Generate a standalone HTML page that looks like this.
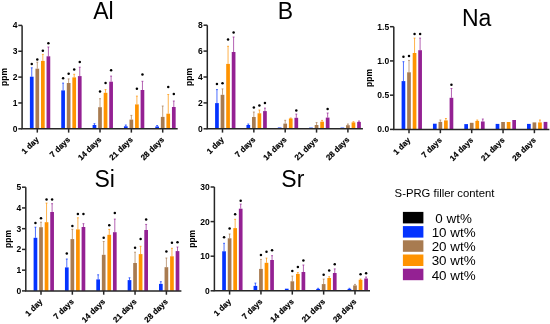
<!DOCTYPE html>
<html><head><meta charset="utf-8"><style>
html,body{margin:0;padding:0;background:#fff;width:550px;height:324px;overflow:hidden}
svg{display:block;will-change:transform}
text{font-family:"Liberation Sans", sans-serif;fill:#000}
.tl{font-size:8.5px;font-weight:bold}
.xl{font-size:8.0px;font-weight:bold;stroke:#000;stroke-width:0.2px}
.pp{font-size:8.5px;font-weight:bold}
.tt{font-size:23px}
.lg{font-size:11.3px}
.lt{font-size:13.4px}
</style></head><body>
<svg width="550" height="324" viewBox="0 0 550 324">
<rect width="550" height="324" fill="#fff"/>
<rect x="29.9" y="76.7" width="3.7" height="52.1" fill="#0433FF"/>
<path d="M31.75 76.7V67.8M30.8 67.8H32.7" stroke="#0433FF" stroke-width="1.0" fill="none" opacity="0.7"/>
<circle cx="31.75" cy="64" r="1.25" fill="#000"/>
<rect x="35.45" y="68.7" width="3.7" height="60.1" fill="#A87B50"/>
<path d="M37.3 68.7V62.2M36.35 62.2H38.25" stroke="#A87B50" stroke-width="1.0" fill="none" opacity="0.7"/>
<circle cx="37.3" cy="59.4" r="1.25" fill="#000"/>
<rect x="41" y="60.9" width="3.7" height="67.9" fill="#FF9300"/>
<path d="M42.85 60.9V54.4M41.9 54.4H43.8" stroke="#FF9300" stroke-width="1.0" fill="none" opacity="0.7"/>
<circle cx="42.85" cy="50.7" r="1.25" fill="#000"/>
<rect x="46.55" y="56.3" width="3.7" height="72.5" fill="#942193"/>
<path d="M48.4 56.3V47M47.45 47H49.35" stroke="#942193" stroke-width="1.0" fill="none" opacity="0.7"/>
<circle cx="48.4" cy="43.3" r="1.25" fill="#000"/>
<rect x="61.25" y="90.4" width="3.7" height="38.4" fill="#0433FF"/>
<path d="M63.1 90.4V83.1M62.15 83.1H64.05" stroke="#0433FF" stroke-width="1.0" fill="none" opacity="0.7"/>
<circle cx="63.1" cy="78.3" r="1.25" fill="#000"/>
<rect x="66.8" y="83" width="3.7" height="45.8" fill="#A87B50"/>
<path d="M68.65 83V78.9M67.7 78.9H69.6" stroke="#A87B50" stroke-width="1.0" fill="none" opacity="0.7"/>
<circle cx="68.65" cy="73.7" r="1.25" fill="#000"/>
<rect x="72.35" y="77.4" width="3.7" height="51.4" fill="#FF9300"/>
<path d="M74.2 77.4V74.3M73.25 74.3H75.15" stroke="#FF9300" stroke-width="1.0" fill="none" opacity="0.7"/>
<circle cx="74.2" cy="69.6" r="1.25" fill="#000"/>
<rect x="77.9" y="76.1" width="3.7" height="52.7" fill="#942193"/>
<path d="M79.75 76.1V67.2M78.8 67.2H80.7" stroke="#942193" stroke-width="1.0" fill="none" opacity="0.7"/>
<circle cx="79.75" cy="61.9" r="1.25" fill="#000"/>
<rect x="92.6" y="125" width="3.7" height="3.8" fill="#0433FF"/>
<path d="M94.45 125V123.7M93.5 123.7H95.4" stroke="#0433FF" stroke-width="1.0" fill="none" opacity="0.7"/>
<rect x="98.15" y="107.2" width="3.7" height="21.6" fill="#A87B50"/>
<path d="M100 107.2V98.7M99.05 98.7H100.95" stroke="#A87B50" stroke-width="1.0" fill="none" opacity="0.7"/>
<circle cx="100" cy="91.5" r="1.25" fill="#000"/>
<rect x="103.7" y="92.8" width="3.7" height="36" fill="#FF9300"/>
<path d="M105.55 92.8V89.6M104.6 89.6H106.5" stroke="#FF9300" stroke-width="1.0" fill="none" opacity="0.7"/>
<circle cx="105.55" cy="83.1" r="1.25" fill="#000"/>
<rect x="109.25" y="81.7" width="3.7" height="47.1" fill="#942193"/>
<path d="M111.1 81.7V76.1M110.15 76.1H112.05" stroke="#942193" stroke-width="1.0" fill="none" opacity="0.7"/>
<circle cx="111.1" cy="70.2" r="1.25" fill="#000"/>
<rect x="123.95" y="126.3" width="3.7" height="2.5" fill="#0433FF"/>
<path d="M125.8 126.3V125M124.85 125H126.75" stroke="#0433FF" stroke-width="1.0" fill="none" opacity="0.7"/>
<rect x="129.5" y="119.6" width="3.7" height="9.2" fill="#A87B50"/>
<path d="M131.35 119.6V115.4M130.4 115.4H132.3" stroke="#A87B50" stroke-width="1.0" fill="none" opacity="0.7"/>
<rect x="135.05" y="104.4" width="3.7" height="24.4" fill="#FF9300"/>
<path d="M136.9 104.4V96.1M135.95 96.1H137.85" stroke="#FF9300" stroke-width="1.0" fill="none" opacity="0.7"/>
<circle cx="136.9" cy="88.7" r="1.25" fill="#000"/>
<rect x="140.6" y="90" width="3.7" height="38.8" fill="#942193"/>
<path d="M142.45 90V81.3M141.5 81.3H143.4" stroke="#942193" stroke-width="1.0" fill="none" opacity="0.7"/>
<circle cx="142.45" cy="74.6" r="1.25" fill="#000"/>
<rect x="155.3" y="126.5" width="3.7" height="2.3" fill="#0433FF"/>
<path d="M157.15 126.5V125.5M156.2 125.5H158.1" stroke="#0433FF" stroke-width="1.0" fill="none" opacity="0.7"/>
<rect x="160.85" y="116.9" width="3.7" height="11.9" fill="#A87B50"/>
<path d="M162.7 116.9V106M161.75 106H163.65" stroke="#A87B50" stroke-width="1.0" fill="none" opacity="0.7"/>
<rect x="166.4" y="113.7" width="3.7" height="15.1" fill="#FF9300"/>
<path d="M168.25 113.7V94.5M167.3 94.5H169.2" stroke="#FF9300" stroke-width="1.0" fill="none" opacity="0.7"/>
<circle cx="168.25" cy="87.1" r="1.25" fill="#000"/>
<rect x="171.95" y="107" width="3.7" height="21.8" fill="#942193"/>
<path d="M173.8 107V101M172.85 101H174.75" stroke="#942193" stroke-width="1.0" fill="none" opacity="0.7"/>
<circle cx="173.8" cy="94.1" r="1.25" fill="#000"/>
<path d="M22.1 25.4V128.8H177.7" stroke="#262626" stroke-width="1.5" fill="none"/>
<path d="M18.3 128.8H22.1" stroke="#262626" stroke-width="1.5"/>
<text x="17.5" y="131.86" text-anchor="end" class="tl">0</text>
<path d="M18.3 102.95H22.1" stroke="#262626" stroke-width="1.5"/>
<text x="17.5" y="106.01" text-anchor="end" class="tl">1</text>
<path d="M18.3 77.1H22.1" stroke="#262626" stroke-width="1.5"/>
<text x="17.5" y="80.16" text-anchor="end" class="tl">2</text>
<path d="M18.3 51.25H22.1" stroke="#262626" stroke-width="1.5"/>
<text x="17.5" y="54.31" text-anchor="end" class="tl">3</text>
<path d="M18.3 25.4H22.1" stroke="#262626" stroke-width="1.5"/>
<text x="17.5" y="28.46" text-anchor="end" class="tl">4</text>
<path d="M37.3 128.8V132.6" stroke="#262626" stroke-width="1.5"/>
<text x="39.3" y="140.1" text-anchor="end" transform="rotate(-45 39.3 140.1)" class="xl">1 day</text>
<path d="M68.65 128.8V132.6" stroke="#262626" stroke-width="1.5"/>
<text x="70.65" y="140.1" text-anchor="end" transform="rotate(-45 70.65 140.1)" class="xl">7 days</text>
<path d="M100 128.8V132.6" stroke="#262626" stroke-width="1.5"/>
<text x="102" y="140.1" text-anchor="end" transform="rotate(-45 102 140.1)" class="xl">14 days</text>
<path d="M131.35 128.8V132.6" stroke="#262626" stroke-width="1.5"/>
<text x="133.35" y="140.1" text-anchor="end" transform="rotate(-45 133.35 140.1)" class="xl">21 days</text>
<path d="M162.7 128.8V132.6" stroke="#262626" stroke-width="1.5"/>
<text x="164.7" y="140.1" text-anchor="end" transform="rotate(-45 164.7 140.1)" class="xl">28 days</text>
<text x="4.35" y="76.9" text-anchor="middle" dominant-baseline="central" transform="rotate(-90 4.35 76.9)" class="pp">ppm</text>
<text x="93.2" y="18.6" class="tt">Al</text>
<rect x="215.1" y="103.1" width="3.7" height="25.7" fill="#0433FF"/>
<path d="M216.95 103.1V89.6M216 89.6H217.9" stroke="#0433FF" stroke-width="1.0" fill="none" opacity="0.7"/>
<circle cx="216.95" cy="84" r="1.25" fill="#000"/>
<rect x="220.65" y="94.8" width="3.7" height="34" fill="#A87B50"/>
<path d="M222.5 94.8V88.9M221.55 88.9H223.45" stroke="#A87B50" stroke-width="1.0" fill="none" opacity="0.7"/>
<circle cx="222.5" cy="83.3" r="1.25" fill="#000"/>
<rect x="226.2" y="63.9" width="3.7" height="64.9" fill="#FF9300"/>
<path d="M228.05 63.9V46.3M227.1 46.3H229" stroke="#FF9300" stroke-width="1.0" fill="none" opacity="0.7"/>
<circle cx="228.05" cy="39.4" r="1.25" fill="#000"/>
<rect x="231.75" y="52" width="3.7" height="76.8" fill="#942193"/>
<path d="M233.6 52V37M232.65 37H234.55" stroke="#942193" stroke-width="1.0" fill="none" opacity="0.7"/>
<circle cx="233.6" cy="32.6" r="1.25" fill="#000"/>
<rect x="246.45" y="125" width="3.7" height="3.8" fill="#0433FF"/>
<path d="M248.3 125V124M247.35 124H249.25" stroke="#0433FF" stroke-width="1.0" fill="none" opacity="0.7"/>
<rect x="252" y="117" width="3.7" height="11.8" fill="#A87B50"/>
<path d="M253.85 117V112M252.9 112H254.8" stroke="#A87B50" stroke-width="1.0" fill="none" opacity="0.7"/>
<circle cx="253.85" cy="107.4" r="1.25" fill="#000"/>
<rect x="257.55" y="113.3" width="3.7" height="15.5" fill="#FF9300"/>
<path d="M259.4 113.3V110M258.45 110H260.35" stroke="#FF9300" stroke-width="1.0" fill="none" opacity="0.7"/>
<circle cx="259.4" cy="105.4" r="1.25" fill="#000"/>
<rect x="263.1" y="111.1" width="3.7" height="17.7" fill="#942193"/>
<path d="M264.95 111.1V108.1M264 108.1H265.9" stroke="#942193" stroke-width="1.0" fill="none" opacity="0.7"/>
<circle cx="264.95" cy="103.1" r="1.25" fill="#000"/>
<rect x="277.8" y="127.5" width="3.7" height="1.3" fill="#0433FF"/>
<rect x="283.35" y="123.6" width="3.7" height="5.2" fill="#A87B50"/>
<path d="M285.2 123.6V120.3M284.25 120.3H286.15" stroke="#A87B50" stroke-width="1.0" fill="none" opacity="0.7"/>
<rect x="288.9" y="118.5" width="3.7" height="10.3" fill="#FF9300"/>
<path d="M290.75 118.5V118M289.8 118H291.7" stroke="#FF9300" stroke-width="1.0" fill="none" opacity="0.7"/>
<rect x="294.45" y="117.8" width="3.7" height="11" fill="#942193"/>
<path d="M296.3 117.8V114.1M295.35 114.1H297.25" stroke="#942193" stroke-width="1.0" fill="none" opacity="0.7"/>
<circle cx="296.3" cy="110.4" r="1.25" fill="#000"/>
<rect x="309.15" y="127.6" width="3.7" height="1.2" fill="#0433FF"/>
<rect x="314.7" y="125" width="3.7" height="3.8" fill="#A87B50"/>
<path d="M316.55 125V122.6M315.6 122.6H317.5" stroke="#A87B50" stroke-width="1.0" fill="none" opacity="0.7"/>
<rect x="320.25" y="121.7" width="3.7" height="7.1" fill="#FF9300"/>
<path d="M322.1 121.7V120.4M321.15 120.4H323.05" stroke="#FF9300" stroke-width="1.0" fill="none" opacity="0.7"/>
<rect x="325.8" y="117.6" width="3.7" height="11.2" fill="#942193"/>
<path d="M327.65 117.6V113M326.7 113H328.6" stroke="#942193" stroke-width="1.0" fill="none" opacity="0.7"/>
<circle cx="327.65" cy="109" r="1.25" fill="#000"/>
<rect x="340.5" y="127.6" width="3.7" height="1.2" fill="#0433FF"/>
<rect x="346.05" y="125.2" width="3.7" height="3.6" fill="#A87B50"/>
<path d="M347.9 125.2V124M346.95 124H348.85" stroke="#A87B50" stroke-width="1.0" fill="none" opacity="0.7"/>
<rect x="351.6" y="122.4" width="3.7" height="6.4" fill="#FF9300"/>
<path d="M353.45 122.4V121.7M352.5 121.7H354.4" stroke="#FF9300" stroke-width="1.0" fill="none" opacity="0.7"/>
<rect x="357.15" y="121.9" width="3.7" height="6.9" fill="#942193"/>
<path d="M359 121.9V121M358.05 121H359.95" stroke="#942193" stroke-width="1.0" fill="none" opacity="0.7"/>
<path d="M207.3 25.2V128.8H362.9" stroke="#262626" stroke-width="1.5" fill="none"/>
<path d="M203.5 128.8H207.3" stroke="#262626" stroke-width="1.5"/>
<text x="202.7" y="131.86" text-anchor="end" class="tl">0</text>
<path d="M203.5 102.9H207.3" stroke="#262626" stroke-width="1.5"/>
<text x="202.7" y="105.96" text-anchor="end" class="tl">2</text>
<path d="M203.5 77H207.3" stroke="#262626" stroke-width="1.5"/>
<text x="202.7" y="80.06" text-anchor="end" class="tl">4</text>
<path d="M203.5 51.1H207.3" stroke="#262626" stroke-width="1.5"/>
<text x="202.7" y="54.16" text-anchor="end" class="tl">6</text>
<path d="M203.5 25.2H207.3" stroke="#262626" stroke-width="1.5"/>
<text x="202.7" y="28.26" text-anchor="end" class="tl">8</text>
<path d="M222.5 128.8V132.6" stroke="#262626" stroke-width="1.5"/>
<text x="224.5" y="140.1" text-anchor="end" transform="rotate(-45 224.5 140.1)" class="xl">1 day</text>
<path d="M253.85 128.8V132.6" stroke="#262626" stroke-width="1.5"/>
<text x="255.85" y="140.1" text-anchor="end" transform="rotate(-45 255.85 140.1)" class="xl">7 days</text>
<path d="M285.2 128.8V132.6" stroke="#262626" stroke-width="1.5"/>
<text x="287.2" y="140.1" text-anchor="end" transform="rotate(-45 287.2 140.1)" class="xl">14 days</text>
<path d="M316.55 128.8V132.6" stroke="#262626" stroke-width="1.5"/>
<text x="318.55" y="140.1" text-anchor="end" transform="rotate(-45 318.55 140.1)" class="xl">21 days</text>
<path d="M347.9 128.8V132.6" stroke="#262626" stroke-width="1.5"/>
<text x="349.9" y="140.1" text-anchor="end" transform="rotate(-45 349.9 140.1)" class="xl">28 days</text>
<text x="189" y="76.9" text-anchor="middle" dominant-baseline="central" transform="rotate(-90 189 76.9)" class="pp">ppm</text>
<text x="277.7" y="18.5" class="tt">B</text>
<rect x="401.6" y="81.1" width="3.7" height="48.3" fill="#0433FF"/>
<path d="M403.45 81.1V61.7M402.5 61.7H404.4" stroke="#0433FF" stroke-width="1.0" fill="none" opacity="0.7"/>
<circle cx="403.45" cy="56.7" r="1.25" fill="#000"/>
<rect x="407.15" y="72.3" width="3.7" height="57.1" fill="#A87B50"/>
<path d="M409 72.3V60.4M408.05 60.4H409.95" stroke="#A87B50" stroke-width="1.0" fill="none" opacity="0.7"/>
<circle cx="409" cy="56.1" r="1.25" fill="#000"/>
<rect x="412.7" y="53" width="3.7" height="76.4" fill="#FF9300"/>
<path d="M414.55 53V38.1M413.6 38.1H415.5" stroke="#FF9300" stroke-width="1.0" fill="none" opacity="0.7"/>
<circle cx="414.55" cy="33.9" r="1.25" fill="#000"/>
<rect x="418.25" y="50.2" width="3.7" height="79.2" fill="#942193"/>
<path d="M420.1 50.2V38.1M419.15 38.1H421.05" stroke="#942193" stroke-width="1.0" fill="none" opacity="0.7"/>
<circle cx="420.1" cy="33.9" r="1.25" fill="#000"/>
<rect x="432.95" y="123.7" width="3.7" height="5.7" fill="#0433FF"/>
<rect x="438.5" y="121.9" width="3.7" height="7.5" fill="#A87B50"/>
<path d="M440.35 121.9V120M439.4 120H441.3" stroke="#A87B50" stroke-width="1.0" fill="none" opacity="0.7"/>
<rect x="444.05" y="120.4" width="3.7" height="9" fill="#FF9300"/>
<path d="M445.9 120.4V118.5M444.95 118.5H446.85" stroke="#FF9300" stroke-width="1.0" fill="none" opacity="0.7"/>
<rect x="449.6" y="97.8" width="3.7" height="31.6" fill="#942193"/>
<path d="M451.45 97.8V88.5M450.5 88.5H452.4" stroke="#942193" stroke-width="1.0" fill="none" opacity="0.7"/>
<circle cx="451.45" cy="84.8" r="1.25" fill="#000"/>
<rect x="464.3" y="124.1" width="3.7" height="5.3" fill="#0433FF"/>
<rect x="469.85" y="122.8" width="3.7" height="6.6" fill="#A87B50"/>
<rect x="475.4" y="120.9" width="3.7" height="8.5" fill="#FF9300"/>
<path d="M477.25 120.9V120M476.3 120H478.2" stroke="#FF9300" stroke-width="1.0" fill="none" opacity="0.7"/>
<rect x="480.95" y="121.5" width="3.7" height="7.9" fill="#942193"/>
<path d="M482.8 121.5V119M481.85 119H483.75" stroke="#942193" stroke-width="1.0" fill="none" opacity="0.7"/>
<rect x="495.65" y="123.9" width="3.7" height="5.5" fill="#0433FF"/>
<rect x="501.2" y="122" width="3.7" height="7.4" fill="#A87B50"/>
<rect x="506.75" y="122" width="3.7" height="7.4" fill="#FF9300"/>
<rect x="512.3" y="120" width="3.7" height="9.4" fill="#942193"/>
<rect x="527" y="123.9" width="3.7" height="5.5" fill="#0433FF"/>
<rect x="532.55" y="122.4" width="3.7" height="7" fill="#A87B50"/>
<rect x="538.1" y="122.4" width="3.7" height="7" fill="#FF9300"/>
<path d="M539.95 122.4V120M539 120H540.9" stroke="#FF9300" stroke-width="1.0" fill="none" opacity="0.7"/>
<rect x="543.65" y="121.9" width="3.7" height="7.5" fill="#942193"/>
<path d="M393.8 26.7V129.4H549.4" stroke="#262626" stroke-width="1.5" fill="none"/>
<path d="M390 129.4H393.8" stroke="#262626" stroke-width="1.5"/>
<text x="389.2" y="132.46" text-anchor="end" class="tl">0.0</text>
<path d="M390 95.17H393.8" stroke="#262626" stroke-width="1.5"/>
<text x="389.2" y="98.23" text-anchor="end" class="tl">0.5</text>
<path d="M390 60.93H393.8" stroke="#262626" stroke-width="1.5"/>
<text x="389.2" y="63.99" text-anchor="end" class="tl">1.0</text>
<path d="M390 26.7H393.8" stroke="#262626" stroke-width="1.5"/>
<text x="389.2" y="29.76" text-anchor="end" class="tl">1.5</text>
<path d="M409 129.4V133.2" stroke="#262626" stroke-width="1.5"/>
<text x="411" y="140.7" text-anchor="end" transform="rotate(-45 411 140.7)" class="xl">1 day</text>
<path d="M440.35 129.4V133.2" stroke="#262626" stroke-width="1.5"/>
<text x="442.35" y="140.7" text-anchor="end" transform="rotate(-45 442.35 140.7)" class="xl">7 days</text>
<path d="M471.7 129.4V133.2" stroke="#262626" stroke-width="1.5"/>
<text x="473.7" y="140.7" text-anchor="end" transform="rotate(-45 473.7 140.7)" class="xl">14 days</text>
<path d="M503.05 129.4V133.2" stroke="#262626" stroke-width="1.5"/>
<text x="505.05" y="140.7" text-anchor="end" transform="rotate(-45 505.05 140.7)" class="xl">21 days</text>
<path d="M534.4 129.4V133.2" stroke="#262626" stroke-width="1.5"/>
<text x="536.4" y="140.7" text-anchor="end" transform="rotate(-45 536.4 140.7)" class="xl">28 days</text>
<text x="368.7" y="78" text-anchor="middle" dominant-baseline="central" transform="rotate(-90 368.7 78)" class="pp">ppm</text>
<text x="462" y="26.2" class="tt">Na</text>
<rect x="33.6" y="237.8" width="3.7" height="53.1" fill="#0433FF"/>
<path d="M35.45 237.8V227.2M34.5 227.2H36.4" stroke="#0433FF" stroke-width="1.0" fill="none" opacity="0.7"/>
<circle cx="35.45" cy="223" r="1.25" fill="#000"/>
<rect x="39.15" y="227.2" width="3.7" height="63.7" fill="#A87B50"/>
<path d="M41 227.2V222.2M40.05 222.2H41.95" stroke="#A87B50" stroke-width="1.0" fill="none" opacity="0.7"/>
<circle cx="41" cy="218.3" r="1.25" fill="#000"/>
<rect x="44.7" y="222.2" width="3.7" height="68.7" fill="#FF9300"/>
<path d="M46.55 222.2V203.1M45.6 203.1H47.5" stroke="#FF9300" stroke-width="1.0" fill="none" opacity="0.7"/>
<circle cx="46.55" cy="199.4" r="1.25" fill="#000"/>
<rect x="50.25" y="212" width="3.7" height="78.9" fill="#942193"/>
<path d="M52.1 212V203.7M51.15 203.7H53.05" stroke="#942193" stroke-width="1.0" fill="none" opacity="0.7"/>
<circle cx="52.1" cy="199.4" r="1.25" fill="#000"/>
<rect x="64.95" y="267.4" width="3.7" height="23.5" fill="#0433FF"/>
<path d="M66.8 267.4V259M65.85 259H67.75" stroke="#0433FF" stroke-width="1.0" fill="none" opacity="0.7"/>
<circle cx="66.8" cy="253.5" r="1.25" fill="#000"/>
<rect x="70.5" y="239.1" width="3.7" height="51.8" fill="#A87B50"/>
<path d="M72.35 239.1V229.3M71.4 229.3H73.3" stroke="#A87B50" stroke-width="1.0" fill="none" opacity="0.7"/>
<circle cx="72.35" cy="226.1" r="1.25" fill="#000"/>
<rect x="76.05" y="229.4" width="3.7" height="61.5" fill="#FF9300"/>
<path d="M77.9 229.4V217.8M76.95 217.8H78.85" stroke="#FF9300" stroke-width="1.0" fill="none" opacity="0.7"/>
<circle cx="77.9" cy="214" r="1.25" fill="#000"/>
<rect x="81.6" y="227" width="3.7" height="63.9" fill="#942193"/>
<path d="M83.45 227V223.7M82.5 223.7H84.4" stroke="#942193" stroke-width="1.0" fill="none" opacity="0.7"/>
<circle cx="83.45" cy="214" r="1.25" fill="#000"/>
<rect x="96.3" y="279.4" width="3.7" height="11.5" fill="#0433FF"/>
<path d="M98.15 279.4V274.8M97.2 274.8H99.1" stroke="#0433FF" stroke-width="1.0" fill="none" opacity="0.7"/>
<rect x="101.85" y="254.8" width="3.7" height="36.1" fill="#A87B50"/>
<path d="M103.7 254.8V241.5M102.75 241.5H104.65" stroke="#A87B50" stroke-width="1.0" fill="none" opacity="0.7"/>
<circle cx="103.7" cy="237.8" r="1.25" fill="#000"/>
<rect x="107.4" y="234.8" width="3.7" height="56.1" fill="#FF9300"/>
<path d="M109.25 234.8V229.4M108.3 229.4H110.2" stroke="#FF9300" stroke-width="1.0" fill="none" opacity="0.7"/>
<circle cx="109.25" cy="225.2" r="1.25" fill="#000"/>
<rect x="112.95" y="232.2" width="3.7" height="58.7" fill="#942193"/>
<path d="M114.8 232.2V219.1M113.85 219.1H115.75" stroke="#942193" stroke-width="1.0" fill="none" opacity="0.7"/>
<circle cx="114.8" cy="213.1" r="1.25" fill="#000"/>
<rect x="127.65" y="280.1" width="3.7" height="10.8" fill="#0433FF"/>
<path d="M129.5 280.1V277.8M128.55 277.8H130.45" stroke="#0433FF" stroke-width="1.0" fill="none" opacity="0.7"/>
<rect x="133.2" y="263" width="3.7" height="27.9" fill="#A87B50"/>
<path d="M135.05 263V252.2M134.1 252.2H136" stroke="#A87B50" stroke-width="1.0" fill="none" opacity="0.7"/>
<circle cx="135.05" cy="247.8" r="1.25" fill="#000"/>
<rect x="138.75" y="254.1" width="3.7" height="36.8" fill="#FF9300"/>
<path d="M140.6 254.1V246.3M139.65 246.3H141.55" stroke="#FF9300" stroke-width="1.0" fill="none" opacity="0.7"/>
<circle cx="140.6" cy="238.9" r="1.25" fill="#000"/>
<rect x="144.3" y="230" width="3.7" height="60.9" fill="#942193"/>
<path d="M146.15 230V224.4M145.2 224.4H147.1" stroke="#942193" stroke-width="1.0" fill="none" opacity="0.7"/>
<circle cx="146.15" cy="219.4" r="1.25" fill="#000"/>
<rect x="159" y="283.9" width="3.7" height="7" fill="#0433FF"/>
<path d="M160.85 283.9V281.7M159.9 281.7H161.8" stroke="#0433FF" stroke-width="1.0" fill="none" opacity="0.7"/>
<rect x="164.55" y="267.2" width="3.7" height="23.7" fill="#A87B50"/>
<path d="M166.4 267.2V258M165.45 258H167.35" stroke="#A87B50" stroke-width="1.0" fill="none" opacity="0.7"/>
<circle cx="166.4" cy="251.5" r="1.25" fill="#000"/>
<rect x="170.1" y="256.3" width="3.7" height="34.6" fill="#FF9300"/>
<path d="M171.95 256.3V248.3M171 248.3H172.9" stroke="#FF9300" stroke-width="1.0" fill="none" opacity="0.7"/>
<circle cx="171.95" cy="242.8" r="1.25" fill="#000"/>
<rect x="175.65" y="251.1" width="3.7" height="39.8" fill="#942193"/>
<path d="M177.5 251.1V247M176.55 247H178.45" stroke="#942193" stroke-width="1.0" fill="none" opacity="0.7"/>
<circle cx="177.5" cy="242.2" r="1.25" fill="#000"/>
<path d="M25.8 187.2V290.9H181.4" stroke="#262626" stroke-width="1.5" fill="none"/>
<path d="M22 290.9H25.8" stroke="#262626" stroke-width="1.5"/>
<text x="21.2" y="293.96" text-anchor="end" class="tl">0</text>
<path d="M22 270.16H25.8" stroke="#262626" stroke-width="1.5"/>
<text x="21.2" y="273.22" text-anchor="end" class="tl">1</text>
<path d="M22 249.42H25.8" stroke="#262626" stroke-width="1.5"/>
<text x="21.2" y="252.48" text-anchor="end" class="tl">2</text>
<path d="M22 228.68H25.8" stroke="#262626" stroke-width="1.5"/>
<text x="21.2" y="231.74" text-anchor="end" class="tl">3</text>
<path d="M22 207.94H25.8" stroke="#262626" stroke-width="1.5"/>
<text x="21.2" y="211" text-anchor="end" class="tl">4</text>
<path d="M22 187.2H25.8" stroke="#262626" stroke-width="1.5"/>
<text x="21.2" y="190.26" text-anchor="end" class="tl">5</text>
<path d="M41 290.9V294.7" stroke="#262626" stroke-width="1.5"/>
<text x="43" y="302.2" text-anchor="end" transform="rotate(-45 43 302.2)" class="xl">1 day</text>
<path d="M72.35 290.9V294.7" stroke="#262626" stroke-width="1.5"/>
<text x="74.35" y="302.2" text-anchor="end" transform="rotate(-45 74.35 302.2)" class="xl">7 days</text>
<path d="M103.7 290.9V294.7" stroke="#262626" stroke-width="1.5"/>
<text x="105.7" y="302.2" text-anchor="end" transform="rotate(-45 105.7 302.2)" class="xl">14 days</text>
<path d="M135.05 290.9V294.7" stroke="#262626" stroke-width="1.5"/>
<text x="137.05" y="302.2" text-anchor="end" transform="rotate(-45 137.05 302.2)" class="xl">21 days</text>
<path d="M166.4 290.9V294.7" stroke="#262626" stroke-width="1.5"/>
<text x="168.4" y="302.2" text-anchor="end" transform="rotate(-45 168.4 302.2)" class="xl">28 days</text>
<text x="7.6" y="238.95" text-anchor="middle" dominant-baseline="central" transform="rotate(-90 7.6 238.95)" class="pp">ppm</text>
<text x="94.5" y="186.8" class="tt">Si</text>
<rect x="222.2" y="251.3" width="3.7" height="39.5" fill="#0433FF"/>
<path d="M224.05 251.3V243.3M223.1 243.3H225" stroke="#0433FF" stroke-width="1.0" fill="none" opacity="0.7"/>
<circle cx="224.05" cy="237.2" r="1.25" fill="#000"/>
<rect x="227.75" y="238.3" width="3.7" height="52.5" fill="#A87B50"/>
<path d="M229.6 238.3V234M228.65 234H230.55" stroke="#A87B50" stroke-width="1.0" fill="none" opacity="0.7"/>
<circle cx="229.6" cy="228.5" r="1.25" fill="#000"/>
<rect x="233.3" y="228.1" width="3.7" height="62.7" fill="#FF9300"/>
<path d="M235.15 228.1V219.3M234.2 219.3H236.1" stroke="#FF9300" stroke-width="1.0" fill="none" opacity="0.7"/>
<circle cx="235.15" cy="214.3" r="1.25" fill="#000"/>
<rect x="238.85" y="208.7" width="3.7" height="82.1" fill="#942193"/>
<path d="M240.7 208.7V204.1M239.75 204.1H241.65" stroke="#942193" stroke-width="1.0" fill="none" opacity="0.7"/>
<circle cx="240.7" cy="200.7" r="1.25" fill="#000"/>
<rect x="253.55" y="285.9" width="3.7" height="4.9" fill="#0433FF"/>
<path d="M255.4 285.9V283.1M254.45 283.1H256.35" stroke="#0433FF" stroke-width="1.0" fill="none" opacity="0.7"/>
<rect x="259.1" y="268.9" width="3.7" height="21.9" fill="#A87B50"/>
<path d="M260.95 268.9V259.4M260 259.4H261.9" stroke="#A87B50" stroke-width="1.0" fill="none" opacity="0.7"/>
<circle cx="260.95" cy="255" r="1.25" fill="#000"/>
<rect x="264.65" y="262.8" width="3.7" height="28" fill="#FF9300"/>
<path d="M266.5 262.8V258.1M265.55 258.1H267.45" stroke="#FF9300" stroke-width="1.0" fill="none" opacity="0.7"/>
<circle cx="266.5" cy="251.7" r="1.25" fill="#000"/>
<rect x="270.2" y="260" width="3.7" height="30.8" fill="#942193"/>
<path d="M272.05 260V255.7M271.1 255.7H273" stroke="#942193" stroke-width="1.0" fill="none" opacity="0.7"/>
<circle cx="272.05" cy="250.2" r="1.25" fill="#000"/>
<rect x="284.9" y="288.7" width="3.7" height="2.1" fill="#0433FF"/>
<rect x="290.45" y="281.3" width="3.7" height="9.5" fill="#A87B50"/>
<path d="M292.3 281.3V276.1M291.35 276.1H293.25" stroke="#A87B50" stroke-width="1.0" fill="none" opacity="0.7"/>
<circle cx="292.3" cy="271.1" r="1.25" fill="#000"/>
<rect x="296" y="273.9" width="3.7" height="16.9" fill="#FF9300"/>
<path d="M297.85 273.9V272.6M296.9 272.6H298.8" stroke="#FF9300" stroke-width="1.0" fill="none" opacity="0.7"/>
<circle cx="297.85" cy="266.9" r="1.25" fill="#000"/>
<rect x="301.55" y="272" width="3.7" height="18.8" fill="#942193"/>
<path d="M303.4 272V265M302.45 265H304.35" stroke="#942193" stroke-width="1.0" fill="none" opacity="0.7"/>
<circle cx="303.4" cy="260.6" r="1.25" fill="#000"/>
<rect x="316.25" y="288.9" width="3.7" height="1.9" fill="#0433FF"/>
<path d="M318.1 288.9V288.3M317.15 288.3H319.05" stroke="#0433FF" stroke-width="1.0" fill="none" opacity="0.7"/>
<rect x="321.8" y="284.1" width="3.7" height="6.7" fill="#A87B50"/>
<path d="M323.65 284.1V279.1M322.7 279.1H324.6" stroke="#A87B50" stroke-width="1.0" fill="none" opacity="0.7"/>
<circle cx="323.65" cy="274.8" r="1.25" fill="#000"/>
<rect x="327.35" y="278" width="3.7" height="12.8" fill="#FF9300"/>
<path d="M329.2 278V276.7M328.25 276.7H330.15" stroke="#FF9300" stroke-width="1.0" fill="none" opacity="0.7"/>
<circle cx="329.2" cy="270.6" r="1.25" fill="#000"/>
<rect x="332.9" y="273" width="3.7" height="17.8" fill="#942193"/>
<path d="M334.75 273V268.9M333.8 268.9H335.7" stroke="#942193" stroke-width="1.0" fill="none" opacity="0.7"/>
<circle cx="334.75" cy="264.3" r="1.25" fill="#000"/>
<rect x="347.6" y="288.9" width="3.7" height="1.9" fill="#0433FF"/>
<path d="M349.45 288.9V288.3M348.5 288.3H350.4" stroke="#0433FF" stroke-width="1.0" fill="none" opacity="0.7"/>
<rect x="353.15" y="285.4" width="3.7" height="5.4" fill="#A87B50"/>
<path d="M355 285.4V284.4M354.05 284.4H355.95" stroke="#A87B50" stroke-width="1.0" fill="none" opacity="0.7"/>
<rect x="358.7" y="279.8" width="3.7" height="11" fill="#FF9300"/>
<path d="M360.55 279.8V279M359.6 279H361.5" stroke="#FF9300" stroke-width="1.0" fill="none" opacity="0.7"/>
<circle cx="360.55" cy="274.3" r="1.25" fill="#000"/>
<rect x="364.25" y="278.5" width="3.7" height="12.3" fill="#942193"/>
<path d="M366.1 278.5V277M365.15 277H367.05" stroke="#942193" stroke-width="1.0" fill="none" opacity="0.7"/>
<circle cx="366.1" cy="273.3" r="1.25" fill="#000"/>
<path d="M214.4 187V290.8H370" stroke="#262626" stroke-width="1.5" fill="none"/>
<path d="M210.6 290.8H214.4" stroke="#262626" stroke-width="1.5"/>
<text x="209.8" y="293.86" text-anchor="end" class="tl">0</text>
<path d="M210.6 256.2H214.4" stroke="#262626" stroke-width="1.5"/>
<text x="209.8" y="259.26" text-anchor="end" class="tl">10</text>
<path d="M210.6 221.6H214.4" stroke="#262626" stroke-width="1.5"/>
<text x="209.8" y="224.66" text-anchor="end" class="tl">20</text>
<path d="M210.6 187H214.4" stroke="#262626" stroke-width="1.5"/>
<text x="209.8" y="190.06" text-anchor="end" class="tl">30</text>
<path d="M229.6 290.8V294.6" stroke="#262626" stroke-width="1.5"/>
<text x="231.6" y="302.1" text-anchor="end" transform="rotate(-45 231.6 302.1)" class="xl">1 day</text>
<path d="M260.95 290.8V294.6" stroke="#262626" stroke-width="1.5"/>
<text x="262.95" y="302.1" text-anchor="end" transform="rotate(-45 262.95 302.1)" class="xl">7 days</text>
<path d="M292.3 290.8V294.6" stroke="#262626" stroke-width="1.5"/>
<text x="294.3" y="302.1" text-anchor="end" transform="rotate(-45 294.3 302.1)" class="xl">14 days</text>
<path d="M323.65 290.8V294.6" stroke="#262626" stroke-width="1.5"/>
<text x="325.65" y="302.1" text-anchor="end" transform="rotate(-45 325.65 302.1)" class="xl">21 days</text>
<path d="M355 290.8V294.6" stroke="#262626" stroke-width="1.5"/>
<text x="357" y="302.1" text-anchor="end" transform="rotate(-45 357 302.1)" class="xl">28 days</text>
<text x="192.5" y="238.8" text-anchor="middle" dominant-baseline="central" transform="rotate(-90 192.5 238.8)" class="pp">ppm</text>
<text x="281.3" y="187" class="tt">Sr</text>
<text x="394.6" y="196.9" class="lg">S-PRG filler content</text>
<rect x="402.9" y="211.9" width="20.5" height="11.5" fill="#000000"/>
<text x="453.6" y="222.7" text-anchor="middle" class="lt">0 wt%</text>
<rect x="402.9" y="226.1" width="20.5" height="11.5" fill="#0433FF"/>
<text x="453.6" y="236.9" text-anchor="middle" class="lt">10 wt%</text>
<rect x="402.9" y="240.3" width="20.5" height="11.5" fill="#A87B50"/>
<text x="453.6" y="251.1" text-anchor="middle" class="lt">20 wt%</text>
<rect x="402.9" y="254.5" width="20.5" height="11.5" fill="#FF9300"/>
<text x="453.6" y="265.3" text-anchor="middle" class="lt">30 wt%</text>
<rect x="402.9" y="268.7" width="20.5" height="11.5" fill="#942193"/>
<text x="453.6" y="279.5" text-anchor="middle" class="lt">40 wt%</text>
</svg>
</body></html>
